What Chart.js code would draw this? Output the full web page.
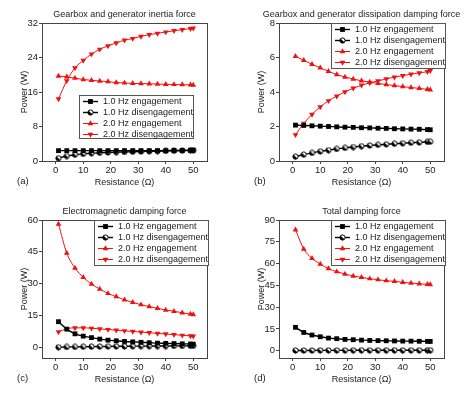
<!DOCTYPE html>
<html lang="en">
<head>
<meta charset="UTF-8">
<title>Power vs resistance</title>
<script src="https://cdn.jsdelivr.net/npm/chart.js"></script>
<style>
  body { margin: 0; background: #fff; }
  #wrap { position: relative; width: 474px; height: 394px; }
  #wrap canvas { position: absolute; }
</style>
</head>
<body>
<div id="wrap">
  <canvas id="chartA" width="237" height="197" style="left:0;top:0"></canvas>
  <canvas id="chartB" width="237" height="197" style="left:237px;top:0"></canvas>
  <canvas id="chartC" width="237" height="197" style="left:0;top:197px"></canvas>
  <canvas id="chartD" width="237" height="197" style="left:237px;top:197px"></canvas>
</div>

<script>
// resistance values (ohm) on the x axis
const resistance = [1, 4, 7, 10, 13, 16, 19, 22, 25, 28, 31, 34, 37, 40, 43, 46, 49, 50];
const xTicks = [0, 10, 20, 30, 40, 50];
const seriesLabels = ['1.0 Hz engagement', '1.0 Hz disengagement', '2.0 Hz engagement', '2.0 Hz disengagement'];

// (a) gearbox and generator inertia force
const inertiaEng1 = [2.4, 2.4, 2.4, 2.4, 2.4, 2.4, 2.4, 2.4, 2.4, 2.4, 2.4, 2.4, 2.4, 2.4, 2.45, 2.45, 2.5, 2.5];
const inertiaDis1 = [0.65, 1.15, 1.45, 1.65, 1.8, 1.9, 1.98, 2.05, 2.1, 2.15, 2.2, 2.25, 2.3, 2.34, 2.38, 2.42, 2.46, 2.5];
const inertiaEng2 = [19.7, 19.5, 19.2, 18.9, 18.7, 18.55, 18.4, 18.2, 18.1, 18.0, 17.95, 17.9, 17.85, 17.8, 17.75, 17.7, 17.65, 17.6];
const inertiaDis2 = [14.4, 18.6, 21.6, 23.3, 24.8, 25.9, 26.7, 27.4, 28.0, 28.4, 28.9, 29.3, 29.6, 29.9, 30.2, 30.45, 30.7, 30.8];
const inertiaYTicks = [0, 8, 16, 24, 32];

// (b) gearbox and generator dissipation damping force
const dissipEng1 = [2.08, 2.06, 2.04, 2.02, 2.0, 1.98, 1.96, 1.95, 1.93, 1.92, 1.9, 1.89, 1.87, 1.86, 1.85, 1.84, 1.82, 1.81];
const dissipDis1 = [0.25, 0.37, 0.47, 0.56, 0.63, 0.70, 0.76, 0.81, 0.86, 0.90, 0.94, 0.97, 1.0, 1.03, 1.06, 1.08, 1.11, 1.12];
const dissipEng2 = [6.07, 5.84, 5.61, 5.40, 5.20, 5.01, 4.87, 4.75, 4.65, 4.57, 4.50, 4.43, 4.37, 4.31, 4.26, 4.21, 4.15, 4.13];
const dissipDis2 = [1.52, 2.18, 2.70, 3.14, 3.49, 3.76, 4.01, 4.22, 4.39, 4.53, 4.64, 4.76, 4.86, 4.95, 5.03, 5.11, 5.18, 5.24];
const dissipYTicks = [0, 2, 4, 6, 8];

// (c) electromagnetic damping force
const emEng1 = [12.1, 8.6, 6.4, 5.3, 4.6, 3.9, 3.4, 3.1, 2.8, 2.6, 2.4, 2.2, 2.0, 1.9, 1.8, 1.7, 1.6, 1.5];
const emDis1 = [0.1, 0.2, 0.25, 0.3, 0.35, 0.4, 0.45, 0.5, 0.5, 0.55, 0.6, 0.6, 0.65, 0.65, 0.7, 0.7, 0.75, 0.75];
const emEng2 = [58.1, 44.4, 37.4, 33.0, 29.8, 27.5, 25.4, 23.9, 22.4, 21.2, 20.1, 19.2, 18.4, 17.6, 17.0, 16.3, 15.7, 15.5];
const emDis2 = [7.3, 8.8, 9.2, 9.2, 9.0, 8.7, 8.4, 8.1, 7.8, 7.5, 7.2, 6.9, 6.6, 6.3, 6.0, 5.7, 5.4, 5.3];
const emYTicks = [0, 15, 30, 45, 60];

// (d) total damping force
const totalEng1 = [16.1, 12.6, 10.8, 9.6, 8.7, 8.3, 7.8, 7.6, 7.3, 7.1, 6.95, 6.85, 6.75, 6.65, 6.6, 6.5, 6.45, 6.4];
const totalDis1 = [0.2, 0.2, 0.2, 0.25, 0.25, 0.25, 0.25, 0.3, 0.3, 0.3, 0.3, 0.3, 0.3, 0.3, 0.3, 0.3, 0.3, 0.3];
const totalEng2 = [83.3, 70.0, 63.6, 59.7, 56.5, 54.4, 52.8, 51.4, 50.5, 49.6, 48.9, 48.2, 47.8, 47.1, 46.6, 46.1, 45.7, 45.5];
const totalDis2 = [0.2, 0.2, 0.2, 0.2, 0.2, 0.2, 0.2, 0.2, 0.2, 0.2, 0.2, 0.2, 0.2, 0.2, 0.2, 0.2, 0.2, 0.2];
const totalYTicks = [0, 15, 30, 45, 60, 75, 90];

const FONT = "'Liberation Sans', Arial, sans-serif";
Chart.defaults.font.family = FONT;
Chart.defaults.color = '#222';

// half filled circle marker for the disengagement 1.0 Hz series
function halfCircle() {
    const c = document.createElement('canvas');
    c.width = 7; c.height = 7;
    const g = c.getContext('2d');
    g.beginPath(); g.arc(3.5, 3.5, 2.6, 0, Math.PI * 2);
    g.fillStyle = '#fff'; g.fill();
    g.beginPath(); g.arc(3.5, 3.5, 2.6, Math.PI / 4, Math.PI * 5 / 4);
    g.closePath(); g.fillStyle = '#000'; g.fill();
    g.beginPath(); g.arc(3.5, 3.5, 2.6, 0, Math.PI * 2);
    g.strokeStyle = '#000'; g.lineWidth = 1; g.stroke();
    return c;
}
const circleMark = halfCircle();

function points(ys) {
    return resistance.map((r, i) => ({ x: r, y: ys[i] }));
}

function makeSets(eng1, dis1, eng2, dis2) {
    return [
        { label: seriesLabels[0], data: points(eng1), borderColor: '#000', backgroundColor: '#000',
          borderWidth: 1.4, pointStyle: 'rect', pointRadius: 3.4, pointBorderWidth: 0 },
        { label: seriesLabels[1], data: points(dis1), borderColor: '#000', backgroundColor: '#000',
          borderWidth: 1.4, pointStyle: circleMark, pointRadius: 3 },
        { label: seriesLabels[2], data: points(eng2), borderColor: '#f01010', backgroundColor: '#f01010',
          borderWidth: 1, pointStyle: 'triangle', pointRadius: 3.3, pointBorderWidth: 0 },
        { label: seriesLabels[3], data: points(dis2), borderColor: '#f01010', backgroundColor: '#f01010',
          borderWidth: 1, pointStyle: 'triangle', pointRotation: 180, pointRadius: 3.3, pointBorderWidth: 0 }
    ];
}

// frame, title, panel letter and a legend drawn inside the plot
const decor = {
    id: 'decor',
    afterDraw(chart, args, opts) {
        const ctx = chart.ctx;
        const a = chart.chartArea;
        ctx.save();
        ctx.strokeStyle = '#444';
        ctx.lineWidth = 1;
        ctx.strokeRect(a.left + 0.5, a.top + 0.5, a.right - a.left, a.bottom - a.top);

        ctx.fillStyle = '#222';
        ctx.font = '9px ' + FONT;
        ctx.textAlign = 'center';
        ctx.textBaseline = 'middle';
        ctx.fillText(opts.title, (a.left + a.right) / 2, 15);
        ctx.textAlign = 'left';
        ctx.font = '9.5px ' + FONT;
        ctx.fillText(opts.tag, 17, 181);

        // legend box
        const L = opts.legend;
        ctx.fillStyle = '#fff';
        ctx.fillRect(L.x, L.y, L.w, L.h);
        ctx.strokeStyle = '#555';
        ctx.strokeRect(L.x + 0.5, L.y + 0.5, L.w, L.h);
        ctx.font = '9px ' + FONT;
        chart.data.datasets.forEach((ds, i) => {
            const y = L.y + 6.5 + i * 11;
            const x0 = L.x + 4;
            ctx.strokeStyle = ds.borderColor;
            ctx.lineWidth = ds.borderWidth;
            ctx.beginPath(); ctx.moveTo(x0, y); ctx.lineTo(x0 + 15, y); ctx.stroke();
            ctx.fillStyle = ds.backgroundColor;
            Chart.helpers.drawPoint(ctx, {
                pointStyle: ds.pointStyle, rotation: ds.pointRotation || 0,
                radius: ds.pointRadius, borderWidth: 0
            }, x0 + 7.5, y);
            ctx.fillStyle = '#222';
            ctx.fillText(ds.label, x0 + 20, y + 0.5);
        });
        ctx.restore();
    }
};

function drawPanel(id, sets, yTicks, yMin, title, tag, legend) {
    const ctx = document.getElementById(id).getContext('2d');
    return new Chart(ctx, {
        type: 'line',
        data: { datasets: sets },
        options: {
            responsive: false,
            animation: false,
            devicePixelRatio: 1,
            cubicInterpolationMode: 'monotone',
            layout: { padding: { top: 23, right: 30, left: 0, bottom: 0 } },
            plugins: {
                legend: { display: false },
                tooltip: { enabled: false },
                decor: { title: title, tag: tag, legend: legend }
            },
            scales: {
                x: {
                    type: 'linear', min: -5, max: 55,
                    afterBuildTicks: s => { s.ticks = xTicks.map(v => ({ value: v })); },
                    afterFit: s => { s.height = 36; },
                    grid: { drawOnChartArea: false, tickLength: 3, color: '#444' },
                    border: { color: '#444' },
                    ticks: { font: { size: 9.5 }, padding: 1, maxRotation: 0 },
                    title: { display: true, text: 'Resistance (Ω)', font: { size: 9 }, padding: { top: 0, bottom: 8.6 } }
                },
                y: {
                    min: yMin, max: yTicks[yTicks.length - 1],
                    afterBuildTicks: s => { s.ticks = yTicks.map(v => ({ value: v })); },
                    afterFit: s => { s.width = 42; },
                    grid: { drawOnChartArea: false, tickLength: 3, color: '#444' },
                    border: { color: '#444' },
                    ticks: { font: { size: 9.5 }, padding: 1 },
                    title: { display: true, text: 'Power (W)', font: { size: 9 }, padding: { top: 19.6, bottom: 0 } }
                }
            }
        },
        plugins: [decor]
    });
}

drawPanel('chartA', makeSets(inertiaEng1, inertiaDis1, inertiaEng2, inertiaDis2), inertiaYTicks, 0,
    'Gearbox and generator inertia force', '(a)', { x: 79, y: 95, w: 114, h: 43 });
drawPanel('chartB', makeSets(dissipEng1, dissipDis1, dissipEng2, dissipDis2), dissipYTicks, 0,
    'Gearbox and generator dissipation damping force', '(b)', { x: 94, y: 23, w: 114, h: 45 });
drawPanel('chartC', makeSets(emEng1, emDis1, emEng2, emDis2), emYTicks, -5,
    'Electromagnetic damping force', '(c)', { x: 94, y: 23, w: 114, h: 45 });
drawPanel('chartD', makeSets(totalEng1, totalDis1, totalEng2, totalDis2), totalYTicks, -5,
    'Total damping force', '(d)', { x: 94, y: 23, w: 114, h: 45 });
</script>
</body>
</html>
